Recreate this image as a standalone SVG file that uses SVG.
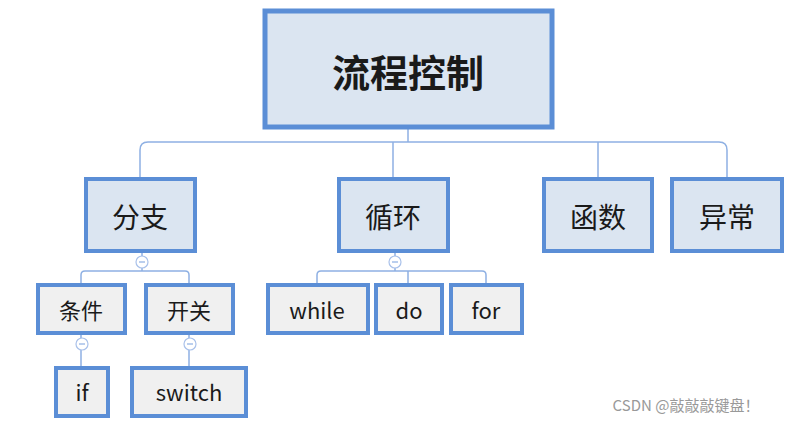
<svg xmlns="http://www.w3.org/2000/svg" width="792" height="428" viewBox="0 0 792 428">
<style>
.m{fill:#dbe5f1;stroke:#5b8ed6;stroke-width:4}
.l{fill:#f0f0f0;stroke:#5b8ed6;stroke-width:4}
.t{font-family:"Noto Sans CJK SC","Liberation Sans",sans-serif;fill:#1a1a1a;text-anchor:middle;dominant-baseline:central}
.c{fill:none;stroke:#8eb0e3;stroke-width:1.5}
.mc{fill:#fff;stroke:#a9c1ea;stroke-width:1.2}
.mm{stroke:#8eb0e3;stroke-width:1.2}
</style>
<rect width="792" height="428" fill="#fff"/>
<g id="connectors">
<path class="c" d="M408,127V142M140,178V150Q140,142 148,142H719Q727,142 727,150V178M393,142V178M598,142V178"/>
<path class="c" d="M142,251V271M81,284V275Q81,271 85,271H185Q189,271 189,275V284M81,333V367M189,333V366"/>
<path class="c" d="M395,251V271M317,284V275Q317,271 321,271H482Q486,271 486,275V284M408,271V284"/>
<g><circle class="mc" cx="142" cy="262" r="6"/><line class="mm" x1="139" y1="262" x2="145" y2="262"/></g>
<g><circle class="mc" cx="395" cy="262" r="6"/><line class="mm" x1="392" y1="262" x2="398" y2="262"/></g>
<g><circle class="mc" cx="82" cy="344" r="6"/><line class="mm" x1="79" y1="344" x2="85" y2="344"/></g>
<g><circle class="mc" cx="190" cy="344" r="6"/><line class="mm" x1="187" y1="344" x2="193" y2="344"/></g>
</g>
<g id="root"><rect class="m" x="265" y="11" width="287" height="116" style="stroke-width:5"/><text class="t" x="408" y="70" font-size="38" font-weight="bold" fill="#2b3a55">流程控制</text></g>
<g id="branch"><rect class="m" x="86" y="179" width="109" height="72"/><text class="t" x="140" y="216" font-size="28">分支</text></g>
<g id="loop"><rect class="m" x="339" y="179" width="109" height="72"/><text class="t" x="393" y="216" font-size="28">循环</text></g>
<g id="func"><rect class="m" x="544" y="179" width="108" height="72"/><text class="t" x="598" y="216" font-size="28">函数</text></g>
<g id="exc"><rect class="m" x="672" y="179" width="110" height="72"/><text class="t" x="727" y="216" font-size="28">异常</text></g>
<g id="cond"><rect class="l" x="38" y="285" width="87" height="48"/><text class="t" x="81" y="309" font-size="22">条件</text></g>
<g id="sw"><rect class="l" x="146" y="285" width="87" height="48"/><text class="t" x="189" y="309" font-size="22">开关</text></g>
<g id="if"><rect class="l" x="56" y="368" width="52" height="48"/><text class="t" x="82" y="391" font-size="22">if</text></g>
<g id="switch"><rect class="l" x="132" y="368" width="114" height="48"/><text class="t" x="189" y="391" font-size="22">switch</text></g>
<g id="while"><rect class="l" x="268" y="285" width="100" height="48"/><text class="t" x="317" y="309" font-size="22">while</text></g>
<g id="do"><rect class="l" x="376" y="285" width="66" height="48"/><text class="t" x="409" y="309" font-size="22">do</text></g>
<g id="for"><rect class="l" x="451" y="285" width="71" height="48"/><text class="t" x="486" y="309" font-size="22">for</text></g>
<text x="686" y="411" font-family="Noto Sans CJK SC,sans-serif" font-size="15" fill="#999" text-anchor="middle">CSDN @敲敲敲键盘！</text>
</svg>
